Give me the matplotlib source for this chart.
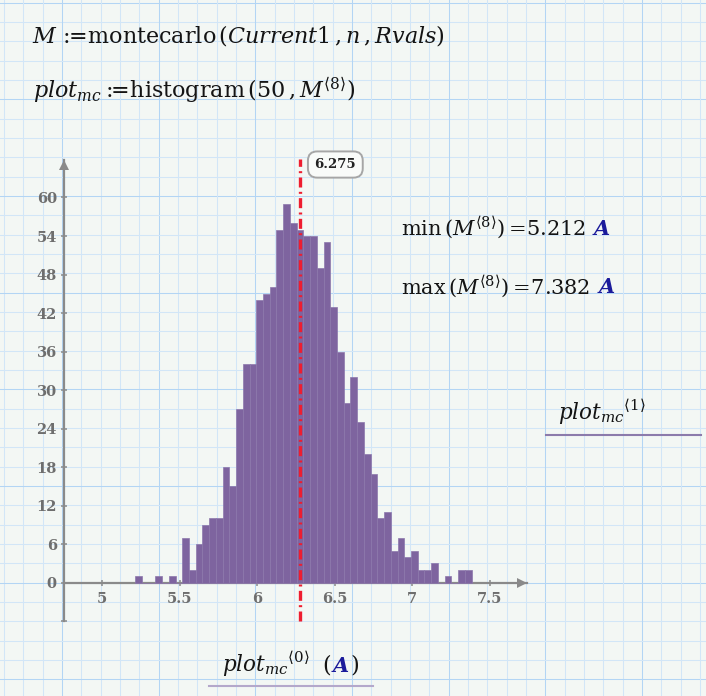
import numpy as np
import matplotlib
matplotlib.use('Agg')
import matplotlib.pyplot as plt
from matplotlib.transforms import offset_copy

plt.rcParams['mathtext.fontset'] = 'dejavuserif'
plt.rcParams['font.family'] = ['DejaVu Serif']

# histogram(50, M<8>): counts per interval between min and max of M<8>
n_bins = 50
m_min = 5.212
m_max = 7.382
counts = [1, 0, 0, 1, 0, 1, 0, 7, 2, 6,
          9, 10, 10, 18, 15, 27, 34, 34, 44, 45,
          46, 55, 59, 56, 55, 54, 54, 49, 53, 43,
          36, 28, 32, 25, 20, 17, 10, 11, 5, 7,
          4, 5, 2, 2, 3, 0, 1, 0, 2, 2]
marker_val = 6.275
x_ticks = [5, 5.5, 6, 6.5, 7, 7.5]
y_ticks = [-6, 0, 6, 12, 18, 24, 30, 36, 42, 48, 54, 60]

W, H = 706, 696
fig = plt.figure(figsize=(W / 100, H / 100), dpi=100)
fig.patch.set_facecolor('#f3f7f4')

# worksheet background (pixel coordinates)
bg = fig.add_axes([0, 0, 1, 1])
bg.set_xlim(0, W)
bg.set_ylim(H, 0)
bg.axis('off')
step = 19.33
for k in range(40):
    xv = 4.06 + k * step
    if xv < W:
        major = (k - 3) % 5 == 0
        bg.axvline(xv, color='#b3d5f4' if major else '#d2e6f7', lw=0.75, zorder=0)
    yv = 2.8 + k * step
    if yv < H:
        major = k % 5 == 0
        bg.axhline(yv, color='#b3d5f4' if major else '#d2e6f7', lw=0.75, zorder=0)

txt = '#141414'
blue = '#1b1b9b'
bg.text(32, 42.7, r'$M\,:\!\!\!=\!\mathrm{montecarlo}\,\left(Current1\,,n\,,Rvals\right)$',
        fontsize=16, color=txt, va='baseline')
bg.text(33, 97.5, r'${plot_{mc}}:\!\!\!=\!\mathrm{histogram}\,\left(50\,,M^{\langle 8\rangle}\right)$',
        fontsize=16, color=txt, va='baseline')

t_min = bg.text(400.7, 235, r'$\mathrm{min}\,\left(M^{\langle 8\rangle}\right)=\!5.212$',
                fontsize=15, color=txt, va='baseline')
bg.annotate('A', xy=(1, 235), xycoords=(t_min, 'data'), xytext=(6, 0), textcoords='offset points',
            fontsize=15, color=blue, fontweight='bold', fontstyle='italic', va='baseline')
t_max = bg.text(400.7, 293.3, r'$\mathrm{max}\,\left(M^{\langle 8\rangle}\right)=\!7.382$',
                fontsize=15, color=txt, va='baseline')
bg.annotate('A', xy=(1, 293.3), xycoords=(t_max, 'data'), xytext=(6, 0), textcoords='offset points',
            fontsize=15, color=blue, fontweight='bold', fontstyle='italic', va='baseline')

# trace labels
bg.text(558, 420, r'${plot_{mc}}^{\langle 1\rangle}$', fontsize=15.5, color=txt, va='baseline')
bg.plot([546, 701], [435, 435], color='#8c7bab', lw=1.5)
t_x = bg.text(221.7, 671.7, r'${plot_{mc}}^{\langle 0\rangle}$', fontsize=15.5, color=txt, va='baseline')
t_lp = bg.annotate(r'$($', xy=(1, 671.7), xycoords=(t_x, 'data'), xytext=(9, 0), textcoords='offset points',
                   fontsize=16, color=txt, va='baseline')
t_a = bg.annotate('A', xy=(1, 671.7), xycoords=(t_lp, 'data'), xytext=(1, 0), textcoords='offset points',
                  fontsize=15, color=blue, fontweight='bold', fontstyle='italic', va='baseline')
bg.annotate(r'$)$', xy=(1, 671.7), xycoords=(t_a, 'data'), xytext=(1, 0), textcoords='offset points',
            fontsize=16, color=txt, va='baseline')
bg.plot([209, 373], [685.7, 685.7], color='#b4a8cb', lw=1.5)

# plot region
px_left, px_right, px_top, px_bot = 63.7, 527.0, 160.0, 621.2
ax = fig.add_axes([px_left / W, 1 - px_bot / H, (px_right - px_left) / W, (px_bot - px_top) / H])
ax.set_facecolor('none')
ax.set_xlim(4.751, 7.740)
ax.set_ylim(-6, 65.84)

edges = np.linspace(m_min, m_max, n_bins + 1)
ax.bar(edges[:-1], counts, width=np.diff(edges), align='edge',
       color='#7e649f', edgecolor='#8c77ab', linewidth=0.5, zorder=2)

axis_col = '#8a8a8a'
for s in ['top', 'right']:
    ax.spines[s].set_visible(False)
ax.spines['left'].set_color(axis_col)
ax.spines['left'].set_linewidth(1.6)
ax.spines['bottom'].set_color(axis_col)
ax.spines['bottom'].set_linewidth(1.6)
ax.spines['bottom'].set_position(('data', 0))
ax.spines['bottom'].set_zorder(1)

ax.set_xticks(x_ticks)
ax.set_xticklabels(['%g' % t for t in x_ticks])
ax.set_yticks(y_ticks)
ax.set_yticklabels(['' if t < 0 else '%d' % t for t in y_ticks])
ax.tick_params(direction='inout', length=5, width=1.1, color=axis_col,
               labelcolor='#6e6e6e', labelsize=10.5)
ax.tick_params(axis='x', pad=4.5)
ax.tick_params(axis='y', pad=2.5)
for lab in ax.get_xticklabels() + ax.get_yticklabels():
    lab.set_fontweight('bold')

# axis arrows
ax.plot([1], [0], marker='>', ms=7, mew=0, color=axis_col, clip_on=False,
        transform=offset_copy(ax.get_yaxis_transform(), fig=fig, x=-3.5, y=0, units='points'))
ax.plot([0], [1], marker='^', ms=7, mew=0, color=axis_col, clip_on=False,
        transform=offset_copy(ax.transAxes, fig=fig, x=0, y=-3.5, units='points'))

# marker line
y_lo, y_hi = ax.get_ylim()
ax.plot([marker_val, marker_val], [y_lo, 66], color='#ee1d30', lw=2.4,
        dashes=(3, 1.3, 0.6, 1.3), clip_on=False, zorder=4)
ax.annotate('%.3f' % marker_val, xy=(marker_val, 66), xytext=(25.5, -4),
            textcoords='offset points', ha='center', va='center', fontsize=9.5,
            fontweight='bold', color='#222222',
            bbox=dict(boxstyle='round,pad=0.5,rounding_size=0.7', fc='#f9fbf9', ec='#a6a6a6', lw=1.4),
            annotation_clip=False)

fig.savefig('out.png', dpi=100, facecolor=fig.get_facecolor())
